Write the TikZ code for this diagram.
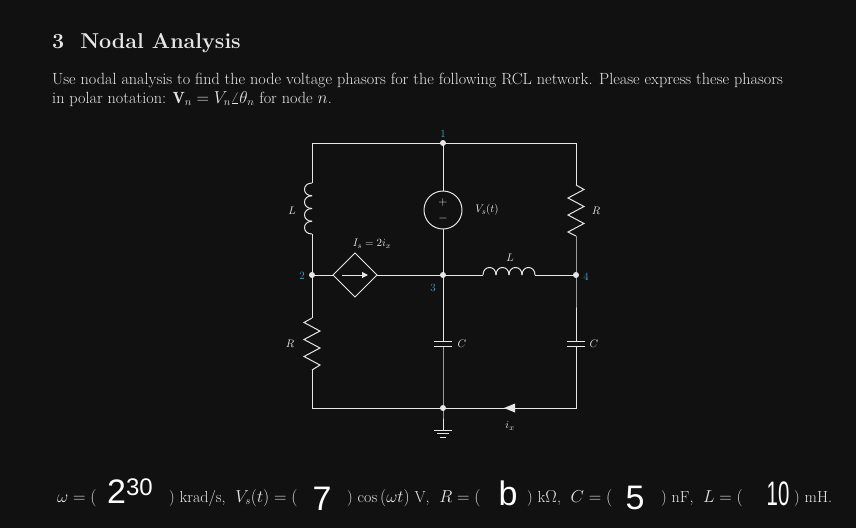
\documentclass[tikz,border=0pt]{standalone}
\usepackage{fontspec}
\newfontfamily\handf{Liberation Sans}
\usetikzlibrary{arrows.meta}
\definecolor{bg}{HTML}{111111}
\definecolor{fg}{HTML}{E6E6E6}
\definecolor{nl}{HTML}{3FA9D9}
\begin{document}
\begin{tikzpicture}[x=1pt,y=-1pt,
  wire/.style={draw=fg,line width=1pt},
  lbl/.style={text=fg,font=\fontsize{11}{12}\selectfont,inner sep=1pt},
  nlbl/.style={text=nl,font=\fontsize{11}{12}\selectfont,inner sep=1pt},
  dotn/.style={circle,fill=fg,inner sep=0pt,minimum size=6pt},
  txt/.style={text=fg,inner sep=0pt,anchor=base west,font=\fontsize{16.2}{19}\selectfont},
  btxt/.style={text=fg,inner sep=0pt,anchor=base west,font=\fontsize{16}{19}\selectfont},
  hand/.style={text=white,inner sep=0pt,anchor=base,font=\handf\fontsize{34}{34}\selectfont}]
\fill[bg] (0,0) rectangle (856,528);
\useasboundingbox (0,0) rectangle (856,528);
% text
\node[txt,font=\fontsize{21.5}{24}\bfseries] (h) at (52,48) {3\hspace{16pt}Nodal Analysis};
\node[txt] (p1) at (52,84) {Use nodal analysis to find the node voltage phasors for the following RCL network. Please express these phasors};
\node[txt] (p2) at (52,103) {in polar notation: $\mathbf{V}_n = V_n\angle\theta_n$ for node $n$.};
% coordinates
\coordinate (TL) at (312,143); \coordinate (n1) at (443,143); \coordinate (TR) at (576,143);
\coordinate (n2) at (312,275); \coordinate (n3) at (443,275); \coordinate (n4) at (576,275);
\coordinate (BL) at (312,408); \coordinate (n0) at (443,408); \coordinate (BR) at (576,408);
% outer wires
\draw[wire] (n2) -- (312,234) (312,183) -- (TL) -- (TR) -- (576,185) (576,236) -- (n4)
  -- (576,341) (576,346) -- (BR) -- (BL) -- (312,370) (312,318) -- (n2);
% left inductor
\foreach \i in {0,1,2,3}{\draw[wire] (312,183+\i*12.75) .. controls (302,183+\i*12.75) and (302,195.75+\i*12.75) .. (312,195.75+\i*12.75);}
% mid inductor
\foreach \i in {0,1,2,3}{\draw[wire] (483+\i*13,275) .. controls (483+\i*13,265) and (496+\i*13,265) .. (496+\i*13,275);}
% resistors
\draw[wire] (576,185) -- (584,189.5) -- (568,198) -- (584,206.5) -- (568,215) -- (584,223.5) -- (568,232) -- (576,236);
\draw[wire] (312,318) -- (304,322.5) -- (320,331) -- (304,339.5) -- (320,348) -- (304,356.5) -- (320,365) -- (312,370);
% middle column
\draw[wire] (n1) -- (443,191) (443,229) -- (n3) -- (483,275) (535,275) -- (n4);
\draw[wire] (n3) -- (443,341) (443,346) -- (n0) -- (443,430);
\draw[wire] (n2) -- (333,275) (377,275) -- (n3);
% source
\draw[wire] (443,210) circle (19);
\node[lbl,font=\fontsize{12}{12}\selectfont] (pl) at (443,202) {$+$};
\node[lbl,font=\fontsize{12}{12}\selectfont] (mi) at (443,218) {$-$};
% diamond
\draw[wire] (333,275) -- (355,253) -- (377,275) -- (355,297) -- cycle;
\draw[wire,-{Triangle[length=6pt,width=6pt]},fill=fg] (342,275) -- (368,275);
% capacitors
\draw[wire] (434,341) -- (452,341) (434,346) -- (452,346);
\draw[wire] (567,341) -- (585,341) (567,346) -- (585,346);
% ground
\draw[wire] (434,430) -- (452,430) (437,433.5) -- (449,433.5) (440,437) -- (446,437);
% ix arrow
\fill[fg] (504,408) -- (515,403.5) -- (515,412.5) -- cycle;
% dots
\foreach \p in {n0,n1,n2,n3,n4}{\node[dotn] at (\p) {};}
% labels
\node[nlbl] (l1) at (443,134) {1};
\node[nlbl] (l2) at (302,276) {2};
\node[nlbl] (l3) at (433,288) {3};
\node[nlbl] (l4) at (586,277) {4};
\node[lbl] (La) at (292,211) {$L$};
\node[lbl] (Ra) at (290,344) {$R$};
\node[lbl] (Rb) at (596,211) {$R$};
\node[lbl] (Vs) at (487,210) {$V_s(t)$};
\node[lbl] (Is) at (372,244) {$I_s=2i_x$};
\node[lbl] (Lb) at (510,258) {$L$};
\node[lbl] (Ca) at (462,344) {$C$};
\node[lbl] (Cb) at (594,344) {$C$};
\node[lbl] (ix) at (510,426) {$i_x$};
% bottom line
\node[btxt] (b1) at (57,502) {$\omega=($};
\node[hand] (d1) at (130,503) {2\raisebox{8pt}{\fontsize{24}{24}\selectfont 30}};
\node[btxt] (b2) at (169,502) {) krad/s,\ \ $V_s(t)=($};
\node[hand] (d2) at (322,510) {7};
\node[btxt] (b3) at (347,502) {) $\cos{(\omega t)}$ V,\ \ $R=($};
\node[hand] (d3) at (508,505) {b};
\node[btxt] (b4) at (527,502) {) k$\Omega$,\ \ $C=($};
\node[hand] (d4) at (635,509) {5};
\node[btxt] (b5) at (661,502) {) nF,\ \ $L=($};
\node[hand] (d5) at (778,505) {\scalebox{0.6}[1]{10}};
\node[btxt] (b6) at (794,502) {) mH.};
\end{tikzpicture}
\end{document}
